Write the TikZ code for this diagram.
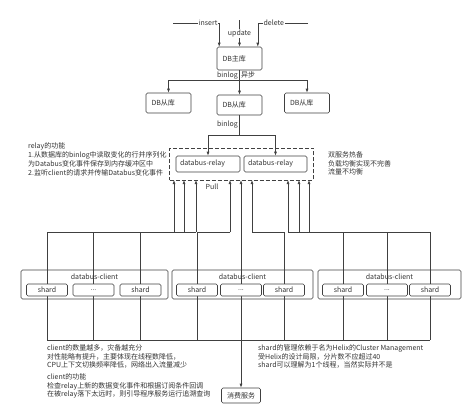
\documentclass[tikz,border=0pt]{standalone}
\usepackage{fontspec}
\setmainfont{Noto Sans CJK SC}
\usetikzlibrary{positioning,fit,arrows.meta,backgrounds}

\begin{document}
\begin{tikzpicture}[
  x=1pt, y=-1pt,
  font=\fontsize{7}{8.6}\selectfont,
  every node/.style={text=black!80},
  line/.style={draw=black!75, line width=0.6pt},
  >={Latex[length=4pt,width=3pt]},
  dbbox/.style={line, fill=white, rounded corners=1.5pt, minimum height=20pt, text width=34pt, inner xsep=5.5pt, align=left},
  relaybox/.style={line, fill=white, rounded corners=1.5pt, minimum height=16pt, text width=56pt, inner xsep=4pt, align=left},
  clientbox/.style={line, rounded corners=1.5pt, minimum height=29pt},
  shard/.style={line, fill=white, rounded corners=1.5pt, minimum width=41pt, minimum height=12pt, inner sep=0pt},
  lbl/.style={fill=white, inner sep=1pt},
  note/.style={align=left, anchor=north west, inner sep=0pt}
]
\useasboundingbox (0,0) rectangle (474,418);

% DB master and its inputs
\node[dbbox, minimum height=23pt] (master) at (239.5,58.5) {DB主库};
\coordinate (insin) at (173,23);
\coordinate (updin) at (239.5,20);
\coordinate (delin) at (308,23);
\draw[line,->] (insin) -| node[lbl, pos=0.38] {insert} ([xshift=2.5pt]master.north west);
\draw[line,->] (updin) -- node[lbl] {update} (master);
\draw[line,->] (delin) -| node[lbl, pos=0.34] {delete} ([xshift=-4.5pt]master.north east);

% DB slaves
\node[dbbox] (slave1) at (168.5,103) {DB从库};
\node[dbbox] (slave2) at (239.5,105) {DB从库};
\node[dbbox] (slave3) at (307,103) {DB从库};
\draw[line,->] (master) -- (slave2);
\draw[line,->] (master.south) ++(0,10) -| (slave1);
\draw[line,->] (master.south) ++(0,10) -| (slave3);
\path (master.south) ++(0,5) node[left, inner sep=1.5pt] {binlog} node[right, inner sep=1.5pt] {异步};

% relays
\node[relaybox] (relay1) at (208,164) {databus-relay};
\node[relaybox, text width=55pt] (relay2) at (275.5,164) {databus-relay};
\node[line, dash pattern=on 4pt off 2pt, fit=(relay1)(relay2), inner xsep=6pt, inner ysep=7.5pt] (relays) {};
\draw[line,->] (slave2.south) -- ++(0,20) -| (relay1);
\draw[line,->] (slave2.south) ++(0,20) -| (relay2);
\path (slave2.south) ++(0,9) node[left, inner sep=1.5pt] {binlog};
\node (pull) at (212,187) {Pull};

% clients
\node[clientbox, minimum width=147pt] (client1) at (94.5,284.5) {};
\node[clientbox, minimum width=141pt] (client2) at (242.5,284.5) {};
\node[clientbox, minimum width=143pt] (client3) at (389.5,284.5) {};
\node[below=0.5pt of client1.north] {databus-client};
\node[below=0.5pt of client2.north] {databus-client};
\node[below=0.5pt of client3.north] {databus-client};

% shards
\node[shard] (s11) at (47,290) {shard};
\node[shard] (s12) at (93.5,290) {...};
\node[shard] (s13) at (140.5,290) {shard};
\node[shard] (s21) at (197,290) {shard};
\node[shard] (s22) at (241,290) {...};
\node[shard] (s23) at (284,290) {shard};
\node[shard] (s31) at (343,290) {shard};
\node[shard] (s32) at (387,290) {...};
\node[shard] (s33) at (430,290) {shard};

% consumer
\node[line, fill=white, rounded corners=1.5pt, minimum width=39pt, minimum height=15pt] (consumer) at (241,395.5) {消费服务};

% pull lines
\begin{scope}[on background layer]
\coordinate (bus) at (0,232);
\coordinate (base) at (0,340);
\coordinate (p1) at (174,232);
\coordinate (p2) at (184,232);
\coordinate (p3) at (196,232);
\coordinate (p4) at (230,232);
\coordinate (p5) at (252,232);
\coordinate (p6) at (288,232);
\coordinate (p7) at (299,232);
\coordinate (p8) at (309,232);
\draw[line,->] (p1) -- (p1 |- relays.south);
\draw[line,->] (p2) -- (p2 |- relays.south);
\draw[line,->] (p3) -- (p3 |- relays.south);
\draw[line,->] (p4) -- (p4 |- relays.south);
\draw[line,->] (p5) -- (p5 |- relays.south);
\draw[line,->] (p6) -- (p6 |- relays.south);
\draw[line,->] (p7) -- (p7 |- relays.south);
\draw[line,->] (p8) -- (p8 |- relays.south);
\draw[line] (s11 |- bus) -- (p3);
\draw[line] (s21 |- bus) -- (p4);
\draw[line] (p5) -- (s23 |- bus);
\draw[line] (p6) -- (s33 |- bus);
\draw[line] (s11 |- bus) -- (s11 |- base);
\draw[line] (s12 |- bus) -- (s12 |- base);
\draw[line] (s13 |- bus) -- (s13 |- base);
\draw[line] (s21 |- bus) -- (s21 |- base);
\draw[line] (s23 |- bus) -- (s23 |- base);
\draw[line] (s31 |- bus) -- (s31 |- base);
\draw[line] (s32 |- bus) -- (s32 |- base);
\draw[line] (s33 |- bus) -- (s33 |- base);
\draw[line] (s11 |- base) -- (s33 |- base);
\draw[line,<->] (s22 |- relays.south) -- (consumer);
\end{scope}

% notes
\node[note, font=\fontsize{7}{9}\selectfont] (relaynote) at (28,142.5) {relay的功能\\1.从数据库的binlog中读取变化的行并序列化\\为Databus变化事件保存到内存缓冲区中\\2.监听client的请求并传输Databus变化事件};
\node[note] (hanote) at (328,151.5) {双服务热备\\负载均衡实现不完善\\流量不均衡};
\node[note] (clientnote) at (47,344.5) {client的数量越多，灾备越充分\\对性能略有提升，主要体现在线程数降低，\\CPU上下文切换频率降低，网络出入流量减少};
\node[note] (funcnote) at (47,373.5) {client的功能\\检查relay上新的数据变化事件和根据订阅条件回调\\在被relay落下太远时，则引导程序服务运行追溯查询};
\node[note] (shardnote) at (258,344.5) {shard的管理依赖于名为Helix的Cluster Management\\受Helix的设计局限，分片数不应超过40\\shard可以理解为1个线程，当然实际并不是};

\end{tikzpicture}
\end{document}
